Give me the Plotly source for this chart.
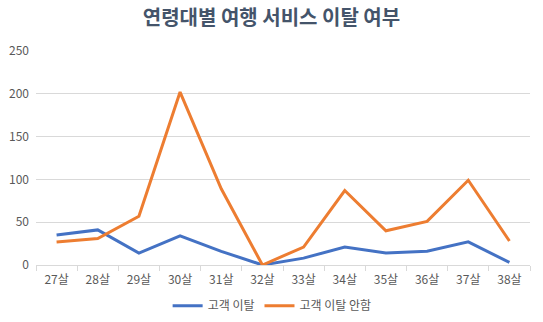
import plotly.graph_objects as go

ages = ["27살", "28살", "29살", "30살", "31살", "32살", "33살", "34살", "35살", "36살", "37살", "38살"]
churn = [35, 41, 14, 34, 16, 0, 8, 21, 14, 16, 27, 3]
no_churn = [27, 31, 57, 202, 89, 0, 21, 87, 40, 51, 99, 28]
y_ticks = [0, 50, 100, 150, 200, 250]

FONT = "Noto Sans CJK KR"

fig = go.Figure()
fig.add_trace(go.Scatter(x=ages, y=churn, mode="lines", name="고객 이탈",
                         line=dict(color="#4472C4", width=3)))
fig.add_trace(go.Scatter(x=ages, y=no_churn, mode="lines", name="고객 이탈 안함",
                         line=dict(color="#ED7D31", width=3)))

fig.update_layout(
    width=543, height=322,
    margin=dict(l=36, r=13, t=51, b=57, autoexpand=False),
    paper_bgcolor="white", plot_bgcolor="white",
    font=dict(family=FONT, color="#595959", size=12),
    title=dict(text="<b>연령대별 여행 서비스 이탈 여부</b>", x=0.5, xanchor="center",
               y=0.945, yanchor="middle",
               font=dict(family=FONT, size=20, color="#44546A")),
    showlegend=True,
    legend=dict(orientation="h", x=0.478, xanchor="center", y=-0.19, yanchor="middle",
                font=dict(size=12, color="#595959"), itemwidth=30),
)
fig.update_xaxes(type="category", range=[-0.5, 11.5], automargin=False, showgrid=False,
                 showline=True, linecolor="#D9D9D9",
                 linewidth=1, ticks="outside", tickson="boundaries", ticklen=5,
                 tickcolor="#D9D9D9", tickfont=dict(size=12, color="#595959"),
                 ticklabelstandoff=4)
fig.update_yaxes(range=[0, 250], tickvals=y_ticks, automargin=False, showgrid=True,
                 gridcolor="#D9D9D9", gridwidth=1, zeroline=False, showline=False,
                 tickfont=dict(size=12, color="#595959"), ticks="", ticklabelstandoff=6)

fig.write_html("out.html")
